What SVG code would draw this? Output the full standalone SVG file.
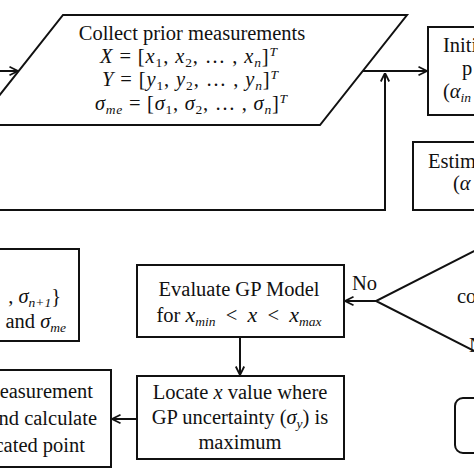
<svg xmlns="http://www.w3.org/2000/svg" width="474" height="474" viewBox="0 0 474 474">
<style>
.t{font-family:"Liberation Serif","Times New Roman",serif;font-size:20.5px;fill:#111}
.m{font-style:italic}
.mm{font-style:italic;font-size:22px}
.s{font-size:13.5px}
.ln{fill:none;stroke:#111;stroke-width:2}
.bx{fill:#fff;stroke:#111;stroke-width:2}
</style>
<defs>
<marker id="a" viewBox="0 0 10 10" refX="9.5" refY="5" markerWidth="10" markerHeight="10" markerUnits="userSpaceOnUse" orient="auto">
<path d="M1,0.8 L9.5,5 L1,9.2" fill="none" stroke="#111" stroke-width="1.8"/>
</marker>
</defs>
<rect width="474" height="474" fill="#fff"/>

<g id="collect">
<polygon class="bx" points="63,15 407,15 320,125 -24,125"/>
<text class="t" x="192" y="40" text-anchor="middle">Collect prior measurements</text>
<text class="t" x="100" y="63" textLength="177" lengthAdjust="spacing"><tspan class="m">X</tspan> = [<tspan class="m">x</tspan><tspan class="s" dy="4">1</tspan><tspan dy="-4">, </tspan><tspan class="m">x</tspan><tspan class="s" dy="4">2</tspan><tspan dy="-4">, … , </tspan><tspan class="m">x</tspan><tspan class="s m" dy="4">n</tspan><tspan dy="-4">]</tspan><tspan class="s m" dy="-7">T</tspan></text>
<text class="t" x="102" y="86" textLength="176" lengthAdjust="spacing"><tspan class="m">Y</tspan> = [<tspan class="m">y</tspan><tspan class="s" dy="4">1</tspan><tspan dy="-4">, </tspan><tspan class="m">y</tspan><tspan class="s" dy="4">2</tspan><tspan dy="-4">, … , </tspan><tspan class="m">y</tspan><tspan class="s m" dy="4">n</tspan><tspan dy="-4">]</tspan><tspan class="s m" dy="-7">T</tspan></text>
<text class="t" x="95" y="110" textLength="192" lengthAdjust="spacing"><tspan class="m">σ</tspan><tspan class="s m" dy="4">me</tspan><tspan dy="-4"> = [</tspan><tspan class="m">σ</tspan><tspan class="s" dy="4">1</tspan><tspan dy="-4">, </tspan><tspan class="m">σ</tspan><tspan class="s" dy="4">2</tspan><tspan dy="-4">, … , </tspan><tspan class="m">σ</tspan><tspan class="s m" dy="4">n</tspan><tspan dy="-4">]</tspan><tspan class="s m" dy="-7">T</tspan></text>
</g>

<g id="init">
<rect class="bx" x="428" y="27" width="60" height="88"/>
<text class="t" x="443" y="52">Initi</text>
<text class="t" x="462" y="75">p</text>
<text class="t" x="443" y="98">(<tspan class="m">α</tspan><tspan class="s m" dy="4">in</tspan></text>
</g>

<g id="estimate">
<rect class="bx" x="413" y="142" width="80" height="68"/>
<text class="t" x="428" y="168">Estim</text>
<text class="t" x="453" y="190">(<tspan class="m">α</tspan></text>
</g>

<g id="update">
<rect class="bx" x="-10" y="249" width="89" height="92"/>
<text class="t" x="61" y="303" text-anchor="end">, <tspan class="m">σ</tspan><tspan class="s m" dy="4">n+1</tspan><tspan dy="-4">}</tspan></text>
<text class="t" x="66" y="328" text-anchor="end">and <tspan class="m">σ</tspan><tspan class="s m" dy="4">me</tspan></text>
</g>

<g id="measure">
<rect class="bx" x="-10" y="370" width="121" height="97"/>
<text class="t" x="93" y="398" text-anchor="end">easurement</text>
<text class="t" x="97" y="425" text-anchor="end">nd calculate</text>
<text class="t" x="85" y="452" text-anchor="end">cated point</text>
</g>

<g id="evaluate">
<rect class="bx" x="137" y="265" width="207" height="72"/>
<text class="t" x="239" y="296" text-anchor="middle">Evaluate GP Model</text>
<text class="t" x="239" y="322" text-anchor="middle">for <tspan class="mm">x</tspan><tspan class="s m" dy="4">min</tspan><tspan dy="-4">&#160; &lt; &#160;</tspan><tspan class="mm">x</tspan>&#160; &lt; &#160;<tspan class="mm">x</tspan><tspan class="s m" dy="4">max</tspan></text>
</g>

<g id="locate">
<rect class="bx" x="137" y="376" width="207" height="83"/>
<text class="t" x="240" y="399" text-anchor="middle">Locate <tspan class="m">x</tspan> value where</text>
<text class="t" x="240" y="424" text-anchor="middle">GP uncertainty (<tspan class="m">σ</tspan><tspan class="s m" dy="4">y</tspan><tspan dy="-4">) is</tspan></text>
<text class="t" x="240" y="449" text-anchor="middle">maximum</text>
</g>

<g id="decision">
<polyline class="ln" points="482,247 376,301 482,355"/>
<text class="t" x="457" y="303">co</text>
<text class="t" x="469" y="352">N</text>
</g>

<g id="terminal">
<rect class="bx" x="455" y="398" width="40" height="55" rx="8"/>
</g>

<g id="connectors">
<path class="ln" d="M-2,71 H18" marker-end="url(#a)"/>
<path class="ln" d="M363,71 H427" marker-end="url(#a)"/>
<path class="ln" d="M-2,210 H385 V73" marker-end="url(#a)"/>
<path class="ln" d="M240,337 V375" marker-end="url(#a)"/>
<path class="ln" d="M137,419 H112" marker-end="url(#a)"/>
<path class="ln" d="M376,301 H345" marker-end="url(#a)"/>
<text class="t" x="352" y="290">No</text>
</g>
</svg>
